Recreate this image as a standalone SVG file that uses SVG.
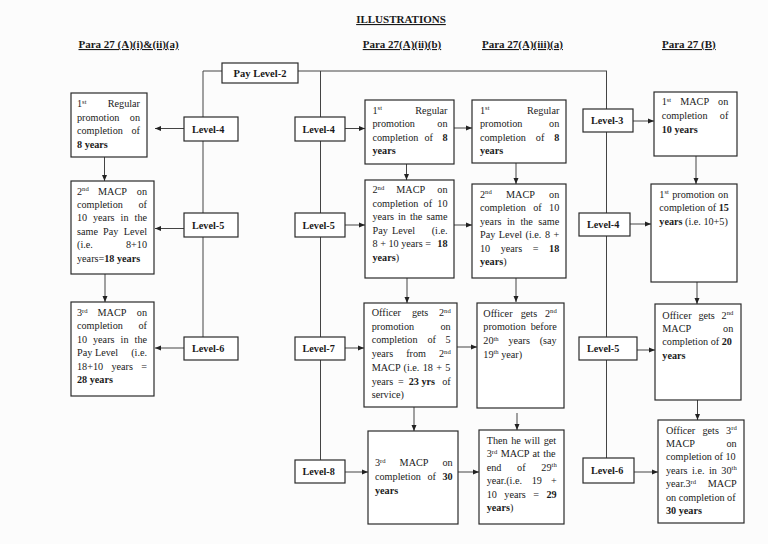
<svg xmlns="http://www.w3.org/2000/svg" width="768" height="544" viewBox="0 0 768 544">
<style>
text{font-family:"Liberation Serif","Times New Roman",serif;font-size:10.2px;fill:#1a1a1a}
.b{font-weight:bold}
.e{text-anchor:end}
.m{text-anchor:middle}
.s{font-size:6.6px}
.h{font-size:11px;font-weight:bold;text-decoration:underline}
.box{fill:#fff;stroke:#2a2a2a;stroke-width:1.2}
.ln{fill:none;stroke:#444;stroke-width:1}
.ar{fill:none;stroke:#444;stroke-width:1;marker-end:url(#a)}
</style>
<defs>
<marker id="a" markerWidth="6" markerHeight="6" refX="6" refY="3" orient="auto" markerUnits="userSpaceOnUse"><path d="M0,0.5 L6,3 L0,5.5z" fill="#222"/></marker>
</defs>
<rect width="768" height="544" fill="#fcfcfc"/>

<g id="titles">
<text class="h m" x="401" y="23">ILLUSTRATIONS</text>
<text class="h" x="78.5" y="48">Para 27 (A)(i)&amp;(ii)(a)</text>
<text class="h" x="362.7" y="48">Para 27(A)(ii)(b)</text>
<text class="h" x="482" y="48">Para 27(A)(iii)(a)</text>
<text class="h" x="662" y="48">Para 27 (B)</text>
</g>

<g id="connectors">
<path class="ln" d="M203,71 H222 M298,71 H607"/>
<path class="ln" d="M203,71 V117 M203,141 V213 M203,237 V337"/>
<path class="ln" d="M320.5,71 V117 M320.5,141 V213 M320.5,237 V337 M320.5,360 V460"/>
<path class="ln" d="M606.5,71 V109 M606.5,132 V213 M606.5,236 V337 M606.5,360 V458"/>
<path class="ar" d="M184,128.5 H155"/>
<path class="ar" d="M184,228.5 H155"/>
<path class="ar" d="M184,348 H155"/>
<path class="ar" d="M104.5,157 V181"/>
<path class="ar" d="M105,274 V302"/>
<path class="ar" d="M345,128.5 H365"/>
<path class="ar" d="M345,225 H365"/>
<path class="ar" d="M345,348 H364"/>
<path class="ar" d="M345,472 H368"/>
<path class="ar" d="M406.5,164 V180"/>
<path class="ar" d="M407,278 V303"/>
<path class="ar" d="M414,407 V431"/>
<path class="ar" d="M454,128 H472"/>
<path class="ar" d="M454,225 H472"/>
<path class="ar" d="M457,347 H477"/>
<path class="ar" d="M458,472 H479"/>
<path class="ar" d="M516,163 V184"/>
<path class="ar" d="M516,278 V302"/>
<path class="ar" d="M517,413 V430"/>
<path class="ar" d="M633,121 H654"/>
<path class="ar" d="M630,224 H651"/>
<path class="ar" d="M637,350 H655"/>
<path class="ar" d="M634,472 H658"/>
<path class="ar" d="M696,156 V184"/>
<path class="ar" d="M697,282 V304"/>
<path class="ar" d="M697.5,400 V420"/>
</g>

<g id="n-pay2"><rect class="box" x="222" y="63" width="76" height="20"/><text class="b m" x="260" y="76.8" style="font-size:10.5px">Pay Level-2</text></g>

<g id="n-left-lv4"><rect class="box" x="184" y="117" width="54" height="24"/><text class="b" x="192" y="132.5">Level-4</text></g>
<g id="n-left-lv5"><rect class="box" x="184" y="213" width="54" height="24"/><text class="b" x="192" y="228.5">Level-5</text></g>
<g id="n-left-lv6"><rect class="box" x="184" y="337" width="54" height="23"/><text class="b" x="192" y="352">Level-6</text></g>

<g id="n-l1"><rect class="box" x="71" y="93" width="76" height="64"/>
<text x="77" y="107">1<tspan class="s" dy="-3.5">st</tspan></text><text class="e" x="140" y="107">Regular</text>
<text x="77" y="120.6">promotion</text><text class="e" x="140" y="120.6">on</text>
<text x="77" y="134.2">completion</text><text class="e" x="140" y="134.2">of</text>
<text class="b" x="77" y="147.8">8 years</text>
</g>

<g id="n-l2"><rect class="box" x="71" y="181" width="83" height="93"/>
<text x="77" y="194.5">2<tspan class="s" dy="-3.5">nd</tspan></text><text x="98" y="194.5">MACP</text><text class="e" x="147" y="194.5">on</text>
<text x="77" y="207.9">completion</text><text class="e" x="147" y="207.9">of</text>
<text x="77" y="221.3">10</text><text x="93" y="221.3">years</text><text x="120.6" y="221.3">in</text><text class="e" x="147" y="221.3">the</text>
<text x="77" y="234.7">same</text><text x="103" y="234.7">Pay</text><text class="e" x="147" y="234.7">Level</text>
<text x="77" y="248.1">(i.e.</text><text class="e" x="147" y="248.1">8+10</text>
<text x="77" y="261.5">years=<tspan class="b">18 years</tspan></text>
</g>

<g id="n-l3"><rect class="box" x="71" y="302" width="83" height="94"/>
<text x="77" y="316">3<tspan class="s" dy="-3.5">rd</tspan></text><text x="97.5" y="316">MACP</text><text class="e" x="147" y="316">on</text>
<text x="77" y="329.4">completion</text><text class="e" x="147" y="329.4">of</text>
<text x="77" y="342.8">10</text><text x="93" y="342.8">years</text><text x="120.6" y="342.8">in</text><text class="e" x="147" y="342.8">the</text>
<text x="77" y="356.2">Pay</text><text x="95" y="356.2">Level</text><text class="e" x="147" y="356.2">(i.e.</text>
<text x="77" y="369.6">18+10</text><text x="111.4" y="369.6">years</text><text class="e" x="147" y="369.6">=</text>
<text class="b" x="77" y="383">28 years</text>
</g>

<g id="n-mid-lv4"><rect class="box" x="295" y="117" width="50" height="24"/><text class="b" x="302.5" y="132.5">Level-4</text></g>
<g id="n-mid-lv5"><rect class="box" x="295" y="213" width="50" height="24"/><text class="b" x="302.5" y="228.5">Level-5</text></g>
<g id="n-mid-lv7"><rect class="box" x="295" y="337" width="50" height="23"/><text class="b" x="302.5" y="352">Level-7</text></g>
<g id="n-mid-lv8"><rect class="box" x="295" y="460" width="50" height="23"/><text class="b" x="302.5" y="475">Level-8</text></g>

<g id="n-m1"><rect class="box" x="365" y="100" width="89" height="64"/>
<text x="372.5" y="113.5">1<tspan class="s" dy="-3.5">st</tspan></text><text class="e" x="447.5" y="113.5">Regular</text>
<text x="372.5" y="127.1">promotion</text><text class="e" x="447.5" y="127.1">on</text>
<text x="372.5" y="140.7">completion</text><text x="424.5" y="140.7">of</text><text class="b e" x="447.5" y="140.7">8</text>
<text class="b" x="372.5" y="154.3">years</text>
</g>

<g id="n-m2"><rect class="box" x="365" y="180" width="89" height="98"/>
<text x="372.5" y="193">2<tspan class="s" dy="-3.5">nd</tspan></text><text x="396.3" y="193">MACP</text><text class="e" x="447.5" y="193">on</text>
<text x="372.5" y="206.6">completion</text><text x="423.6" y="206.6">of</text><text class="e" x="447.5" y="206.6">10</text>
<text x="372.5" y="220.2">years</text><text x="398" y="220.2">in</text><text x="409.9" y="220.2">the</text><text class="e" x="447.5" y="220.2">same</text>
<text x="372.5" y="233.8">Pay</text><text x="392" y="233.8">Level</text><text class="e" x="447.5" y="233.8">(i.e.</text>
<text x="372.5" y="247.4">8 + 10 years =</text><text class="b e" x="447.5" y="247.4">18</text>
<text x="372.5" y="261"><tspan class="b">years</tspan>)</text>
</g>

<g id="n-m3"><rect class="box" x="364" y="303" width="93" height="104"/>
<text x="371.7" y="316">Officer</text><text x="411.9" y="316">gets</text><text class="e" x="450.7" y="316">2<tspan class="s" dy="-3.5">nd</tspan></text>
<text x="371.7" y="329.7">promotion</text><text class="e" x="450.7" y="329.7">on</text>
<text x="371.7" y="343.4">completion</text><text x="427.5" y="343.4">of</text><text class="e" x="450.7" y="343.4">5</text>
<text x="371.7" y="357.1">years</text><text x="406.2" y="357.1">from</text><text class="e" x="450.7" y="357.1">2<tspan class="s" dy="-3.5">nd</tspan></text>
<text x="371.7" y="370.8" style="word-spacing:0.8px">MACP (i.e. 18 + 5</text>
<text x="371.7" y="384.5">years</text><text x="398" y="384.5">=</text><text class="b" x="408.7" y="384.5">23 yrs</text><text class="e" x="450.7" y="384.5">of</text>
<text x="371.7" y="398.2">service)</text>
</g>

<g id="n-m4"><rect class="box" x="368" y="431" width="90" height="93"/>
<text x="375" y="466.2">3<tspan class="s" dy="-3.5">rd</tspan></text><text x="399.6" y="466.2">MACP</text><text class="e" x="452.7" y="466.2">on</text>
<text x="375" y="480">completion</text><text x="427.4" y="480">of</text><text class="b e" x="452.7" y="480">30</text>
<text class="b" x="375" y="493.8">years</text>
</g>

<g id="n-r1"><rect class="box" x="472" y="100" width="94" height="63"/>
<text x="480" y="113.5">1<tspan class="s" dy="-3.5">st</tspan></text><text class="e" x="559.3" y="113.5">Regular</text>
<text x="480" y="127.1">promotion</text><text class="e" x="559.3" y="127.1">on</text>
<text x="480" y="140.7">completion</text><text x="535.8" y="140.7">of</text><text class="b e" x="559.3" y="140.7">8</text>
<text class="b" x="480" y="154.3">years</text>
</g>

<g id="n-r2"><rect class="box" x="472" y="184" width="94" height="94"/>
<text x="480" y="197.5">2<tspan class="s" dy="-3.5">nd</tspan></text><text x="506" y="197.5">MACP</text><text class="e" x="559.3" y="197.5">on</text>
<text x="480" y="211">completion</text><text x="533.2" y="211">of</text><text class="e" x="559.3" y="211">10</text>
<text x="480" y="224.5">years</text><text x="507" y="224.5">in</text><text x="520.4" y="224.5">the</text><text class="e" x="559.3" y="224.5">same</text>
<text x="480" y="238" style="word-spacing:1px">Pay Level (i.e. 8 +</text>
<text x="480" y="251.5">10</text><text x="500.7" y="251.5">years</text><text x="532.8" y="251.5">=</text><text class="b e" x="559.3" y="251.5">18</text>
<text x="480" y="265"><tspan class="b">years</tspan>)</text>
</g>

<g id="n-r3"><rect class="box" x="477" y="303" width="87" height="105"/>
<text x="483.3" y="316.8">Officer</text><text x="520.7" y="316.8">gets</text><text class="e" x="556.7" y="316.8">2<tspan class="s" dy="-3.5">nd</tspan></text>
<text x="483.3" y="330.4">promotion</text><text class="e" x="556.7" y="330.4">before</text>
<text x="483.3" y="344">20<tspan class="s" dy="-3.5">th</tspan></text><text x="508.4" y="344">years</text><text class="e" x="556.7" y="344">(say</text>
<text x="483.3" y="357.6">19<tspan class="s" dy="-3.5">th</tspan><tspan dy="3.5"> year)</tspan></text>
</g>

<g id="n-r4"><rect class="box" x="479" y="430" width="85" height="94"/>
<text x="486.7" y="443.5" style="word-spacing:1px">Then he will get</text>
<text x="486.7" y="457">3<tspan class="s" dy="-3.5">rd</tspan><tspan dy="3.5" style="word-spacing:0.8px"> MACP at the</tspan></text>
<text x="486.7" y="470.5">end</text><text x="517.1" y="470.5">of</text><text class="e" x="556.7" y="470.5">29<tspan class="s" dy="-3.5">th</tspan></text>
<text x="486.7" y="484">year.(i.e.</text><text x="531.7" y="484">19</text><text class="e" x="556.7" y="484">+</text>
<text x="486.7" y="497.5">10</text><text x="504.3" y="497.5">years</text><text x="533.3" y="497.5">=</text><text class="b e" x="556.7" y="497.5">29</text>
<text x="486.7" y="511"><tspan class="b">years</tspan>)</text>
</g>

<g id="n-right-lv3"><rect class="box" x="583" y="109" width="50" height="23"/><text class="b" x="591" y="124">Level-3</text></g>
<g id="n-right-lv4"><rect class="box" x="579" y="213" width="51" height="23"/><text class="b" x="587" y="228">Level-4</text></g>
<g id="n-right-lv5"><rect class="box" x="579" y="337" width="58" height="23"/><text class="b" x="587" y="352">Level-5</text></g>
<g id="n-right-lv6"><rect class="box" x="583" y="458" width="51" height="25"/><text class="b" x="591" y="474">Level-6</text></g>

<g id="n-b1"><rect class="box" x="654" y="92" width="83" height="64"/>
<text x="661.7" y="105.2">1<tspan class="s" dy="-3.5">st</tspan></text><text x="680.2" y="105.2">MACP</text><text class="e" x="728.3" y="105.2">on</text>
<text x="661.7" y="119.2">completion</text><text class="e" x="728.3" y="119.2">of</text>
<text class="b" x="661.7" y="133.2">10 years</text>
</g>

<g id="n-b2"><rect class="box" x="651" y="184" width="86" height="98"/>
<text x="659.3" y="197.5">1<tspan class="s" dy="-3.5">st</tspan></text><text x="672.2" y="197.5">promotion</text><text class="e" x="728.3" y="197.5">on</text>
<text x="659.3" y="211.2">completion of <tspan class="b">15</tspan></text>
<text x="659.3" y="224.9"><tspan class="b">years</tspan> (i.e. 10+5)</text>
</g>

<g id="n-b3"><rect class="box" x="655" y="304" width="86" height="96"/>
<text x="662.3" y="318.5">Officer</text><text x="698.4" y="318.5">gets</text><text class="e" x="733.3" y="318.5">2<tspan class="s" dy="-3.5">nd</tspan></text>
<text x="662.3" y="331.9">MACP</text><text class="e" x="733.3" y="331.9">on</text>
<text x="662.3" y="345.3">completion of <tspan class="b">20</tspan></text>
<text class="b" x="662.3" y="358.7">years</text>
</g>

<g id="n-b4"><rect class="box" x="658" y="420" width="86" height="103"/>
<text x="666" y="433.5">Officer</text><text x="702.5" y="433.5">gets</text><text class="e" x="736.7" y="433.5">3<tspan class="s" dy="-3.5">rd</tspan></text>
<text x="666" y="447">MACP</text><text class="e" x="736.7" y="447">on</text>
<text x="666" y="460.4">completion of 10</text>
<text x="666" y="473.8">years</text><text x="692" y="473.8">i.e.</text><text x="708.9" y="473.8">in</text><text class="e" x="736.7" y="473.8">30<tspan class="s" dy="-3.5">th</tspan></text>
<text x="666" y="487.2">year.3<tspan class="s" dy="-3.5">rd</tspan></text><text class="e" x="736.7" y="487.2">MACP</text>
<text x="666" y="500.6">on completion of</text>
<text class="b" x="666" y="514">30 years</text>
</g>
</svg>
